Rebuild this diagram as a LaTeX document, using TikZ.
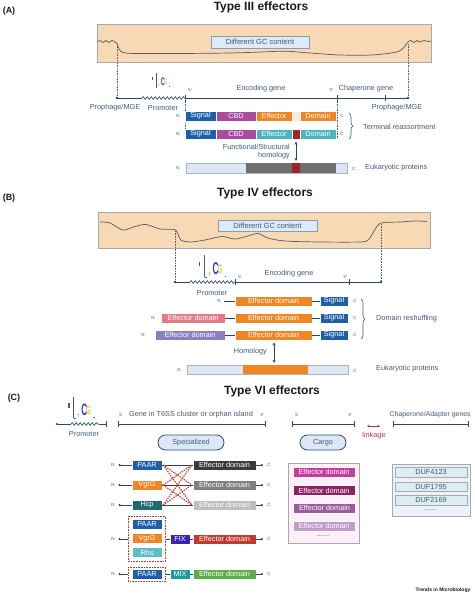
\documentclass[tikz,border=0pt]{standalone}
\usepackage{fontspec}
\setmainfont{Liberation Sans}
\usetikzlibrary{decorations.pathreplacing,decorations.pathmorphing,arrows.meta}
\newcommand\fsz[1]{\fontsize{#1}{#1}\selectfont}
\definecolor{orangebg}{HTML}{F8D9B6}
\definecolor{borderg}{HTML}{A9A9A9}
\definecolor{gcfill}{HTML}{DDEAF7}
\definecolor{gcdraw}{HTML}{8C9BB0}
\definecolor{labelc}{HTML}{415B78}
\definecolor{navy}{HTML}{2B4766}
\definecolor{dotc}{HTML}{4F6480}
\definecolor{wavec}{HTML}{5A5A5A}
\definecolor{sigc}{HTML}{1F5FAA}
\definecolor{cbdc}{HTML}{A94C9F}
\definecolor{effo}{HTML}{EF8523}
\definecolor{lighto}{HTML}{FCEBD6}
\definecolor{tealc}{HTML}{4AB5BF}
\definecolor{darkred}{HTML}{A1241F}
\definecolor{eukf}{HTML}{DDE6F4}
\definecolor{eukd}{HTML}{A8B4C8}
\definecolor{grayd}{HTML}{6F6F6F}
\definecolor{pinkc}{HTML}{E27B84}
\definecolor{lavc}{HTML}{8A80C0}
\definecolor{dkgray}{HTML}{3C3C3C}
\definecolor{mdgray}{HTML}{808080}
\definecolor{ltgray}{HTML}{BEBEBE}
\definecolor{hcpc}{HTML}{1F6C6E}
\definecolor{rhsc}{HTML}{5CBFC8}
\definecolor{fixc}{HTML}{3B22B2}
\definecolor{effred}{HTML}{C03A30}
\definecolor{mixc}{HTML}{1F9C9C}
\definecolor{greenc}{HTML}{5EAF4B}
\definecolor{crossc}{HTML}{C0392B}
\definecolor{pillf}{HTML}{DCE8F5}
\definecolor{pilld}{HTML}{2E4F78}
\definecolor{cargof}{HTML}{FCEFF8}
\definecolor{cargA}{HTML}{C73B9E}
\definecolor{cargB}{HTML}{8B2262}
\definecolor{cargC}{HTML}{9B5C9E}
\definecolor{cargD}{HTML}{C39BCB}
\definecolor{duff}{HTML}{EBF3F9}
\definecolor{dufb}{HTML}{DCEEF3}
\definecolor{linkc}{HTML}{B23A3A}
\definecolor{titlec}{HTML}{1A1A1A}
\definecolor{logoblue}{HTML}{3A3AD0}
\definecolor{logoyel}{HTML}{E8C440}
\tikzset{
 lbl/.style={font=\fsz{7.3}, text=labelc, inner sep=0pt},
 tinyl/.style={font=\fsz{4.5}, text=labelc, inner sep=0pt},
 ttl/.style={font=\bfseries\fsz{12}, text=titlec, inner sep=0pt},
 panel/.style={font=\bfseries\fsz{9}, text=titlec, inner sep=0pt},
 dbox/.style={draw=white, line width=0.3pt, text=white, font=\fsz{7.3}, inner sep=0pt, minimum height=10pt},
 gline/.style={draw=navy, line width=0.8pt},
 cline/.style={draw=navy, line width=0.7pt},
 vdot/.style={draw=dotc, densely dotted, line width=0.6pt},
 prom/.style={draw=navy, line width=0.6pt, decorate, decoration={snake, segment length=4pt, amplitude=1.4pt}},
 harrow/.style={draw=navy, line width=0.8pt, {Stealth[length=3pt,width=3pt]}-{Stealth[length=3pt,width=3pt]}},
 gcbox/.style={draw=gcdraw, fill=gcfill, line width=0.4pt, font=\fsz{7.5}, text=labelc, inner sep=0pt},
 bg/.style={draw=borderg, fill=orangebg, line width=0.6pt},
 wave/.style={draw=wavec, line width=0.7pt},
 crossl/.style={draw=crossc, line width=1.1pt, dash pattern=on 1.4pt off 1.1pt},
 grpbox/.style={draw=crossc, line width=0.6pt, densely dotted},
 pill/.style={draw=pilld, fill=pillf, line width=0.8pt, rounded corners=7.5pt, font=\fsz{7.3}, text=labelc, inner sep=0pt, minimum height=15pt},
 eukbar/.style={draw=eukd, fill=eukf, line width=0.4pt},
 brc/.style={draw=labelc, line width=0.6pt, decorate, decoration={brace, amplitude=4pt}},
 dufbox/.style={draw=borderg, fill=dufb, line width=0.4pt, font=\fsz{7.3}, text=labelc, inner sep=0pt, minimum height=9.5pt, minimum width=72pt},
}
\newcommand\promlogo[3]{%
 \begin{scope}[shift={(#1,#2)}, scale=#3, transform shape]
  \draw[labelc, line width=0.4pt] (0,0) -- (0,-14) (0,0) -- (1.5,0);
  \fill[labelc] (-3.4,-10) rectangle (-2.6,-7);
  \node[inner sep=0pt, font=\fsz{3}, text=grayd] at (3.2,-1.6) {T};
  \node[inner sep=0pt, font=\bfseries\fsz{5.5}, text=logoblue] at (7.2,-5.5) {\scalebox{1}[2]{C}};
  \node[inner sep=0pt, font=\bfseries\fsz{4}, text=logoyel] at (10,-5) {\scalebox{1}[2]{G}};
  \draw[grayd, line width=0.3pt] (13,-0.5) -- (14,-0.5);
 \end{scope}}
\begin{document}
\begin{tikzpicture}[x=1pt,y=-1pt]
\useasboundingbox (0,0) rectangle (474,594);
\fill[white] (0,0) rectangle (474,594);

%% ================= (A) =================
\node[panel] (pA) at (9,11) {(A)};
\node[ttl] (tA) at (261,7) {Type III effectors};
\draw[bg] (97,24) rectangle (431,62);
\node[gcbox, minimum width=98pt, minimum height=12pt] (gcA) at (260,42) {Different GC content};
\draw[wave] plot[smooth, tension=0.5] coordinates {(97,42) (100,40.5) (103,42.5) (106,40.5) (109,42.5) (112,40.5) (115,42) (117,43.5) (119,49) (123,52.5) (135,53.5) (180,53.5) (230,53) (262,52) (285,51.2) (310,53) (340,55) (372,55) (394,52.5) (401,50) (405,46) (408,42) (411,40.5) (414,42.5) (417,40.5) (420,42) (424,40.5) (428,41.5) (431,41)};
\coordinate (dA1t) at (117,44);
\coordinate (dA1b) at (117,98);
\coordinate (dA2t) at (408,44);
\coordinate (dA2b) at (408,98);
\draw[vdot] (dA1t) -- (dA1b);
\draw[vdot] (dA2t) -- (dA2b);
% gene line
\coordinate (gA0) at (117,98);
\coordinate (gA1) at (142,98);
\coordinate (gA2) at (185,98);
\coordinate (gA3) at (408,98);
\draw[gline] (gA0) -- (gA1);
\draw[prom] (gA1) -- (gA2);
\draw[gline] (gA2) -- (gA3);
\fill[navy] (gA0) circle (1.3);
\fill[navy] (gA3) circle (1.3);
\draw[gline] (185,95) -- (185,101) (337,95) -- (337,101) (385,95) -- (385,101);
\promlogo{155.7}{87}{1}
\node[tinyl] (A5) at (190,90) {5'};
\node[lbl] (Aenc) at (261,89) {Encoding gene};
\node[tinyl] (A3) at (331,90) {3'};
\node[lbl] (Achap) at (366,89) {Chaperone gene};
\node[lbl] (Apl) at (115,108) {Prophage/MGE};
\node[lbl] (Aprom) at (163,108) {Promoter};
\node[lbl] (Apr) at (397,108) {Prophage/MGE};
\draw[vdot] (185,99) -- (185,139);
\draw[vdot] (337,99) -- (337,139);
% row 1
\node[dbox, fill=sigc, minimum width=31pt] (sA1) at (200.5,116) {Signal};
\node[dbox, fill=cbdc, minimum width=40pt] (cA1) at (236,116) {CBD};
\node[dbox, fill=effo, minimum width=36pt] (eA1) at (274,116) {Effector};
\node[dbox, fill=lighto, minimum width=8pt] (bA1) at (296,116) {};
\node[dbox, fill=effo, minimum width=36pt] (mA1) at (318,116) {Domain};
\node[tinyl] (nA1) at (178,116) {N};
\node[tinyl] (cA1c) at (342,116) {C};
% row 2
\node[dbox, fill=sigc, minimum width=31pt] (sA2) at (200.5,134) {Signal};
\node[dbox, fill=cbdc, minimum width=40pt] (cA2) at (236,134) {CBD};
\node[dbox, fill=tealc, minimum width=36pt] (eA2) at (274,134) {Effector};
\node[dbox, fill=darkred, minimum width=8pt] (bA2) at (296,134) {};
\node[dbox, fill=tealc, minimum width=36pt] (mA2) at (318,134) {Domain};
\node[tinyl] (nA2) at (178,134) {N};
\node[tinyl] (cA2c) at (342,134) {C};
\draw[brc] (349,113) -- (349,139);
\node[lbl, anchor=west] (Aterm) at (363,127) {Terminal reassortment};
% homology
\node[dbox, fill=darkred, minimum width=8pt, minimum height=10pt, draw=none] (bA3) at (296,168) {};
\draw[eukbar] (186,163) rectangle (347,173);
\fill[grayd] (246,163.2) rectangle (336,172.8);
\fill[darkred] (292,163.2) rectangle (300,172.8);
\draw[harrow] (bA2.south) ++(0,2.5) -- ([yshift=2pt]bA3.north);
\node[lbl, anchor=east] (Afs) at (290,147) {Functional/Structural};
\node[lbl, anchor=east] (Ahom) at (290,155.5) {homology};
\node[tinyl] (nA3) at (178,168) {N};
\node[tinyl] (cA3c) at (354,169) {C};
\node[lbl, anchor=west] (Aeuk) at (365,168) {Eukaryotic proteins};

%% ================= (B) =================
\node[panel] (pB) at (9,198) {(B)};
\node[ttl] (tB) at (265,193) {Type IV effectors};
\draw[bg] (98,212) rectangle (430,248);
\node[gcbox, minimum width=99pt, minimum height=11pt] (gcB) at (267.5,225.5) {Different GC content};
\draw[wave] plot[smooth, tension=0.5] coordinates {(100,222) (110,223) (123,230) (135,226.5) (146,224.5) (160,229) (174,229.5) (177,232) (181,240) (190,242) (205,240) (222,236.5) (235,239) (248,236) (258,233.5) (268,238) (285,241) (320,242) (360,242) (368,240) (373,233) (378,225) (384,222.5) (400,222) (415,221) (427,221.5)};
\coordinate (dB1t) at (175,231);
\coordinate (dB1b) at (175,282);
\coordinate (dB2t) at (381,224);
\coordinate (dB2b) at (381,282);
\draw[vdot] (dB1t) -- (dB1b);
\draw[vdot] (dB2t) -- (dB2b);
\coordinate (gB0) at (175,282);
\coordinate (gB1) at (190,282);
\coordinate (gB2) at (235,282);
\coordinate (gB3) at (381,282);
\draw[gline] (gB0) -- (gB1);
\draw[prom] (gB1) -- (gB2);
\draw[gline] (gB2) -- (gB3);
\fill[navy] (gB0) circle (1.3);
\fill[navy] (gB3) circle (1.3);
\draw[gline] (235,279) -- (235,285) (349,279) -- (349,285);
\promlogo{204.5}{277}{1.55}
\node[tinyl] (B5) at (240,277) {5'};
\node[lbl] (Benc) at (289,274) {Encoding gene};
\node[tinyl] (B3) at (345,277) {3'};
\node[lbl] (Bprom) at (212,293) {Promoter};
% rows
\node[dbox, fill=effo, minimum width=77pt] (eB1) at (273.5,301) {Effector domain};
\node[dbox, fill=sigc, minimum width=28pt] (sB1) at (334,301) {Signal};
\node[tinyl] (nB1) at (219,301) {N};
\node[tinyl] (cB1) at (355,301) {C};
\draw[cline] ([xshift=3pt]nB1.east) -- (eB1.west);
\draw[cline] (eB1.east) -- (sB1.west);

\node[dbox, fill=pinkc, minimum width=64pt] (pB2) at (193,318) {Effector domain};
\node[dbox, fill=effo, minimum width=77pt] (eB2) at (273.5,318) {Effector domain};
\node[dbox, fill=sigc, minimum width=28pt] (sB2) at (334,318) {Signal};
\node[tinyl] (nB2) at (153,318) {N};
\node[tinyl] (cB2) at (355,318) {C};
\draw[cline] (pB2.east) -- (eB2.west);
\draw[cline] (eB2.east) -- (sB2.west);

\node[dbox, fill=lavc, minimum width=70pt] (pB3) at (190,335) {Effector domain};
\node[dbox, fill=effo, minimum width=77pt] (eB3) at (273.5,335) {Effector domain};
\node[dbox, fill=sigc, minimum width=28pt] (sB3) at (334,335) {Signal};
\node[tinyl] (nB3) at (143,335) {N};
\node[tinyl] (cB3) at (355,335) {C};
\draw[cline] (pB3.east) -- (eB3.west);
\draw[cline] (eB3.east) -- (sB3.west);
\draw[brc] (361,299) -- (361,339);
\node[lbl, anchor=west] (Bdom) at (376,319) {Domain reshuffling};
% euk
\draw[eukbar] (187,365) rectangle (348,374);
\fill[effo] (243,365.2) rectangle (308,373.8);
\coordinate (hB) at (274,363);
\draw[harrow] (274,342.5) -- (hB);
\node[lbl, anchor=east] (Bhom) at (267,352) {Homology};
\node[tinyl] (nB4) at (179,370) {N};
\node[tinyl] (cB4) at (355,371) {C};
\node[lbl, anchor=west] (Beuk) at (376,369) {Eukaryotic proteins};

%% ================= (C) =================
\node[panel] (pC) at (14,398) {(C)};
\node[ttl] (tC) at (272,391) {Type VI effectors};
\promlogo{73.5}{418}{1.5}
\coordinate (pc0) at (57,424);
\coordinate (pc1) at (71,424);
\coordinate (pc2) at (99,424);
\coordinate (pc3) at (106,424);
\draw[gline] (pc0) -- (pc1);
\draw[prom] (pc1) -- (pc2);
\draw[gline] (pc2) -- (pc3);
\fill[navy] (pc0) circle (1.2);
\draw[gline] (106,421) -- (106,427);
\node[lbl] (Cprom) at (84,434) {Promoter};
% gene lines
\draw[gline] (118,424) -- (265,424) (118,421) -- (118,427) (265,421) -- (265,427);
\node[tinyl] (C5a) at (121,415) {5'};
\node[lbl] (Cgene) at (191,415) {Gene in T6SS cluster or orphan island};
\node[tinyl] (C3a) at (262,415) {3'};
\draw[gline] (292,424) -- (354,424) (292,421) -- (292,427) (354,421) -- (354,427);
\node[tinyl] (C5b) at (297,415) {5'};
\node[tinyl] (C3b) at (350,415) {3'};
\coordinate (lk1) at (367,426);
\coordinate (lk2) at (380,426);
\draw[linkc, line width=0.8pt, {Stealth[length=2.6pt,width=2.6pt]}-{Stealth[length=2.6pt,width=2.6pt]}] (lk1) -- (lk2);
\node[font=\fsz{7.3}, text=linkc, inner sep=0pt] (Clink) at (374,435.5) {linkage};
\draw[gline] (393,424) -- (468,424) (393,421) -- (393,427) (468,421) -- (468,427);
\node[lbl, font=\fsz{6.9}, anchor=west] (Cchap) at (389.5,415) {Chaperone/Adapter genes};
\node[pill, minimum width=66pt] (spec) at (191,442.5) {Specialized};
\node[pill, minimum width=46pt] (cargo) at (323,442.5) {Cargo};
% specialized rows
\foreach \y/\nm/\col/\lab/\ecol [count=\i] in {465/PAAR/sigc/PAAR/dkgray, 485/VgrG/effo/VgrG/mdgray, 505/Hcp/hcpc/Hcp/ltgray}{
  \node[tinyl] (nC\i) at (113,\y) {N};
  \coordinate (dl\i) at (119.5,\y);
  \node[dbox, fill=\col, minimum width=30pt] (l\i) at (147,\y) {\lab};
  \node[dbox, fill=\ecol, minimum width=63pt] (r\i) at (224.5,\y) {Effector domain};
  \coordinate (dr\i) at (262,\y);
  \node[tinyl] (cC\i) at (269,\y) {C};
  \fill[navy] (dl\i) circle (1.2);
  \fill[navy] (dr\i) circle (1.2);
  \draw[cline] (dl\i) -- (l\i.west);
  \draw[cline] (l\i.east) -- (r\i.west);
  \draw[cline] (r\i.east) -- (dr\i);
}
\draw[crossl] ([xshift=1pt]l1.east) -- ([xshift=-1pt]r2.west);
\draw[crossl] ([xshift=1pt]l1.east) -- ([xshift=-1pt]r3.west);
\draw[crossl] ([xshift=1pt]l2.east) -- ([xshift=-1pt]r1.west);
\draw[crossl] ([xshift=1pt]l2.east) -- ([xshift=-1pt]r3.west);
\draw[crossl] ([xshift=1pt]l3.east) -- ([xshift=-1pt]r1.west);
\draw[crossl] ([xshift=1pt]l3.east) -- ([xshift=-1pt]r2.west);
% FIX group
\draw[grpbox] (128,516) rectangle (165.5,561);
\coordinate (g4w) at (128,539);
\coordinate (g4e) at (165.5,539);
\node[dbox, fill=sigc, minimum width=30pt] (p4) at (147,524) {PAAR};
\node[dbox, fill=effo, minimum width=30pt] (v4) at (147,538.5) {VgrG};
\node[dbox, fill=rhsc, minimum width=30pt] (rh4) at (147,552.5) {Rhs};
\node[dbox, fill=fixc, minimum width=20pt] (fix) at (180,539) {FIX};
\node[dbox, fill=effred, minimum width=63pt] (r4) at (224.5,539) {Effector domain};
\node[tinyl] (nC4) at (113,539) {N};
\coordinate (dl4) at (119.5,539);
\coordinate (dr4) at (262,539);
\node[tinyl] (cC4) at (269,539) {C};
\fill[navy] (dl4) circle (1.2);
\fill[navy] (dr4) circle (1.2);
\draw[cline] (dl4) -- (g4w);
\draw[cline] (g4e) -- (fix.west);
\draw[cline] (fix.east) -- (r4.west);
\draw[cline] (r4.east) -- (dr4);
% MIX group
\draw[grpbox] (128,567) rectangle (165.5,581);
\coordinate (g5w) at (128,574);
\coordinate (g5e) at (165.5,574);
\node[dbox, fill=sigc, minimum width=30pt] (p5) at (147,574) {PAAR};
\node[dbox, fill=mixc, minimum width=20pt] (mix) at (180,574) {MIX};
\node[dbox, fill=greenc, minimum width=63pt] (r5) at (224.5,574) {Effector domain};
\node[tinyl] (nC5) at (113,574) {N};
\coordinate (dl5) at (119.5,574);
\coordinate (dr5) at (262,574);
\node[tinyl] (cC5) at (269,574) {C};
\fill[navy] (dl5) circle (1.2);
\fill[navy] (dr5) circle (1.2);
\draw[cline] (dl5) -- (g5w);
\draw[cline] (g5e) -- (mix.west);
\draw[cline] (mix.east) -- (r5.west);
\draw[cline] (r5.east) -- (dr5);
% cargo box
\draw[draw=borderg, fill=cargof, line width=0.5pt] (288,463) rectangle (359,543);
\node[dbox, fill=cargA, minimum width=62pt] (ca1) at (324,472) {Effector domain};
\node[dbox, fill=cargB, minimum width=62pt] (ca2) at (324,490.5) {Effector domain};
\node[dbox, fill=cargC, minimum width=62pt] (ca3) at (324.5,508) {Effector domain};
\node[dbox, fill=cargD, minimum width=62pt] (ca4) at (324,526) {Effector domain};
\node[lbl] (cadots) at (323,536.5) {......};
% DUF box
\draw[draw=borderg, fill=duff, line width=0.5pt] (392,464) rectangle (470,516);
\node[dufbox] (du1) at (431,472) {DUF4123};
\node[dufbox] (du2) at (431,486.5) {DUF1795};
\node[dufbox] (du3) at (431,500) {DUF2169};
\node[lbl] (dudots) at (431,510) {......};
\node[font=\bfseries\fsz{5}, text=titlec, inner sep=0pt] (trends) at (443,590) {Trends in Microbiology};
\end{tikzpicture}
\end{document}
